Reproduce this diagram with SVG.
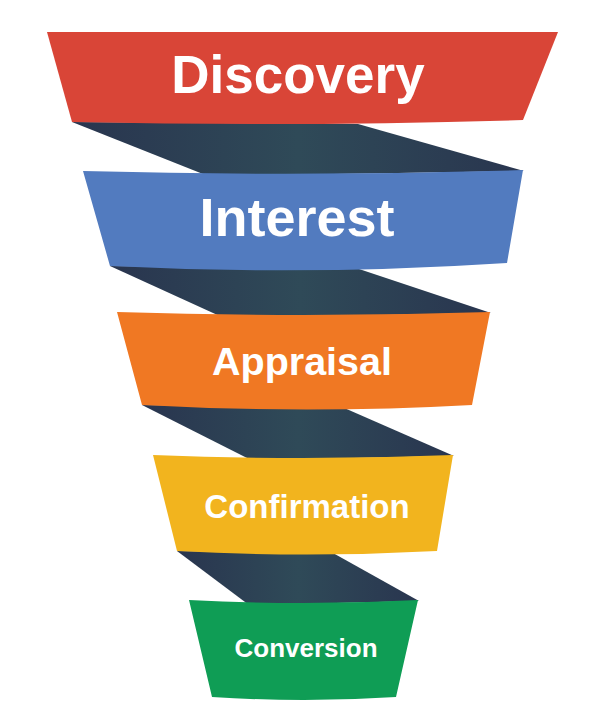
<svg xmlns="http://www.w3.org/2000/svg" width="600" height="724" viewBox="0 0 600 724">
<style>
.lbl{font-family:"Liberation Sans",Arial,sans-serif;font-weight:bold;fill:#ffffff;text-anchor:middle}
.rib{fill:url(#navy)}
</style>
<defs>
<linearGradient id="navy" x1="0" y1="0" x2="1" y2="0">
<stop offset="0" stop-color="#29354f"/>
<stop offset="0.5" stop-color="#2f4a58"/>
<stop offset="1" stop-color="#29354f"/>
</linearGradient>
</defs>
<rect width="600" height="724" fill="#ffffff"/>
<g id="connectors">
<polygon class="rib" points="72,122 358,124 524,171 208,176"/>
<polygon class="rib" points="110,266 356,268 491,313 224,318"/>
<polygon class="rib" points="142,405 342,407 454,456 251,460"/>
<polygon class="rib" points="177,551 333,553 419,601 249,605"/>
</g>
<g id="discovery">
<path d="M47,32 L558,32 L523,120 Q298,127 72,122 Z" fill="#d94537"/>
<text class="lbl" x="298" y="93" font-size="53">Discovery</text>
</g>
<g id="interest">
<path d="M83,171 Q302,177 523,170 L507,263 Q308,276 110,266 Z" fill="#527bbf"/>
<text class="lbl" x="297" y="236" font-size="54">Interest</text>
</g>
<g id="appraisal">
<path d="M117,312 Q303,318 490,312 L472,405 Q307,414 142,405 Z" fill="#f07823"/>
<text class="lbl" x="302" y="375" font-size="39.5">Appraisal</text>
</g>
<g id="confirmation">
<path d="M153,455 Q303,461 453,455 L437,551 Q307,558 177,551 Z" fill="#f2b41e"/>
<text class="lbl" x="307" y="518" font-size="33">Confirmation</text>
</g>
<g id="conversion">
<path d="M189,600 Q303,606 418,600 L396,697 Q304,703 212,697 Z" fill="#0f9d55"/>
<text class="lbl" x="306" y="657" font-size="26">Conversion</text>
</g>
</svg>
